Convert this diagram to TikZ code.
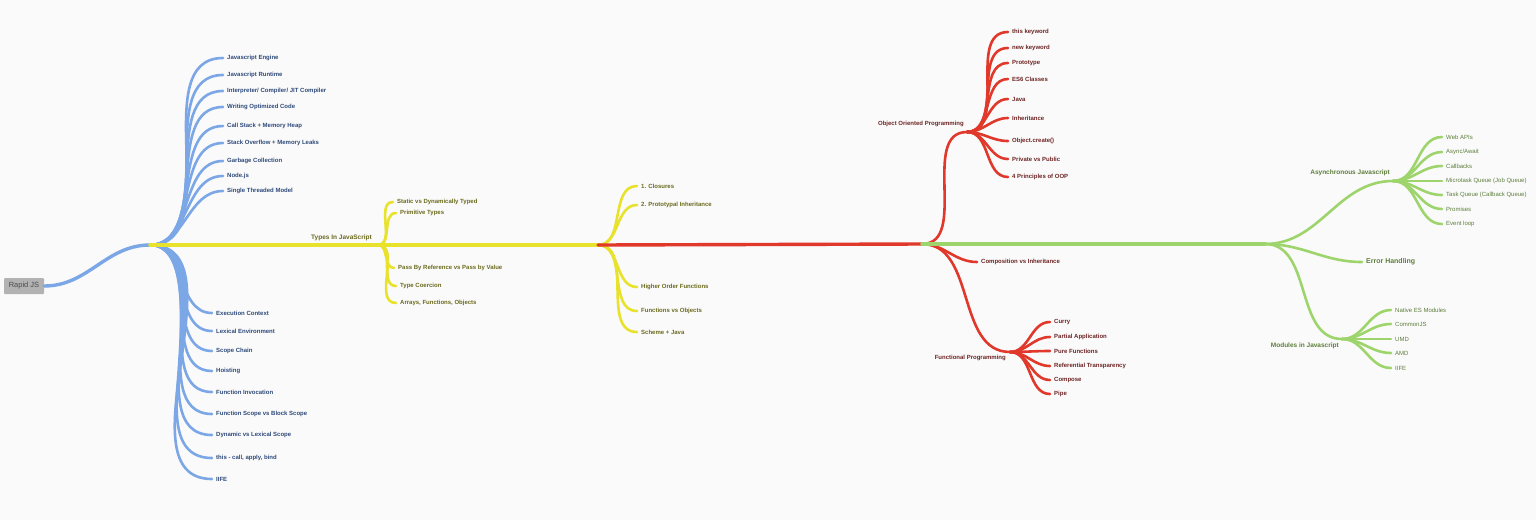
\documentclass[tikz,border=0pt]{standalone}
\usepackage{fontspec}
\setmainfont{Liberation Sans}
\definecolor{bluewire}{HTML}{7BA7E6}
\definecolor{bluetext}{HTML}{2E4A7A}
\definecolor{yelwire}{HTML}{E8E22C}
\definecolor{yeltext}{HTML}{6B6A1E}
\definecolor{redwire}{HTML}{E0382A}
\definecolor{redtext}{HTML}{6E2424}
\definecolor{grnwire}{HTML}{9DD56C}
\definecolor{grntext}{HTML}{5E7E3C}
\tikzset{
  leaf/.style={anchor=west,inner ysep=1pt,inner xsep=4pt,xshift=-3pt,font=\fontsize{6}{7}\selectfont\bfseries},
  thinleaf/.style={leaf,font=\fontsize{6}{7}\selectfont},
  hublabel/.style={inner sep=1pt,font=\fontsize{6.5}{8}\selectfont\bfseries},
  wire/.style={line width=2.6pt,line cap=round},
  trunk/.style={line width=3.4pt,line cap=round},
}
\begin{document}
\begin{tikzpicture}[x=1pt,y=-1pt]
  \useasboundingbox[fill=white!98!black] (0,0) rectangle (1536,520);
  % root
  \node[fill=black!30,text=black!70,minimum width=40pt,minimum height=16pt,inner sep=1pt,
        rounded corners=1pt,font=\fontsize{7.5}{9}\selectfont] (root) at (24,286) {Rapid JS};
  \coordinate (hubA) at (150,245);
  \coordinate (hubT) at (378,245);
  \coordinate (hubY) at (598,245);
  \coordinate (hubR) at (922,244);
  \coordinate (hubG) at (1265,244);
  \draw[trunk,bluewire] (root.east) to[out=0,in=180] (hubA);
  % blue leaves
  \foreach \t/\y [count=\i] in {Javascript Engine/58,Javascript Runtime/75,
      {Interpreter/ Compiler/ JIT Compiler}/91,Writing Optimized Code/107,
      Call Stack + Memory Heap/126,Stack Overflow + Memory Leaks/143,
      Garbage Collection/161,Node.js/176,Single Threaded Model/191}{
    \node[leaf,text=bluetext] (bt\i) at (226,\y) {\t};
    \draw[wire,bluewire] (hubA) to[out=0,in=180] (bt\i.west);
  }
  \foreach \t/\y [count=\i] in {Execution Context/313,Lexical Environment/331,
      Scope Chain/351,Hoisting/371,Function Invocation/392,
      Function Scope vs Block Scope/414,Dynamic vs Lexical Scope/435,
      {this - call, apply, bind}/458,IIFE/479}{
    \node[leaf,text=bluetext] (bb\i) at (215,\y) {\t};
    \draw[wire,bluewire] (hubA) to[out=0,in=180] (bb\i.west);
  }
  % yellow
  \draw[trunk,yelwire] (hubA) -- (hubT) -- (hubY);
  \node[hublabel,text=yeltext,anchor=south east] (types) at (373,242) {Types In JavaScript};
  \foreach \t/\y/\x [count=\i] in {Static vs Dynamically Typed/202/396,Primitive Types/213/399,
      Pass By Reference vs Pass by Value/268/397,Type Coercion/286/399,
      {Arrays, Functions, Objects}/303/399}{
    \node[leaf,text=yeltext] (yt\i) at (\x,\y) {\t};
    \draw[wire,yelwire] (hubT) to[out=0,in=180] (yt\i.west);
  }
  \foreach \t/\y [count=\i] in {1. Closures/186,2. Prototypal Inheritance/205,
      Higher Order Functions/287,Functions vs Objects/311,Scheme + Java/332}{
    \node[leaf,text=yeltext] (yc\i) at (640,\y) {\t};
    \draw[wire,yelwire] (hubY) to[out=0,in=180] (yc\i.west);
  }
  % red
  \draw[trunk,redwire] (hubY) -- (hubR);
  \coordinate (hubOOP) at (967,132);
  \coordinate (hubFP) at (1010,352);
  \draw[wire,redwire] (hubR) to[out=0,in=180] (hubOOP);
  \draw[wire,redwire] (hubR) to[out=0,in=180] (hubFP);
  \node[leaf,text=redtext] (comp) at (980,262) {Composition vs Inheritance};
  \draw[wire,redwire] (hubR) to[out=0,in=180] (comp.west);
  \node[hublabel,text=redtext,anchor=south east,font=\fontsize{6}{7}\selectfont\bfseries] (oop) at (965,128) {Object Oriented Programming};
  \node[hublabel,text=redtext,anchor=north east,font=\fontsize{6}{7}\selectfont\bfseries] (fp) at (1007,354) {Functional Programming};
  \foreach \t/\y [count=\i] in {this keyword/32,new keyword/48,Prototype/63,
      ES6 Classes/79,Java/99,Inheritance/118,Object.create()/141,
      Private vs Public/159,4 Principles of OOP/177}{
    \node[leaf,text=redtext] (ro\i) at (1011,\y) {\t};
    \draw[wire,redwire] (hubOOP) to[out=0,in=180] (ro\i.west);
  }
  \foreach \t/\y [count=\i] in {Curry/322,Partial Application/337,Pure Functions/351,
      Referential Transparency/366,Compose/380,Pipe/394}{
    \node[leaf,text=redtext] (rf\i) at (1053,\y) {\t};
    \draw[wire,redwire] (hubFP) to[out=0,in=180] (rf\i.west);
  }
  % green
  \draw[trunk,grnwire] (hubR) -- (hubG);
  \coordinate (hubAsync) at (1393,181);
  \coordinate (hubMod) at (1342,339);
  \draw[wire,grnwire] (hubG) to[out=0,in=180] (hubAsync);
  \draw[wire,grnwire] (hubG) to[out=0,in=180] (hubMod);
  \node[leaf,text=grntext,font=\fontsize{7}{8}\selectfont\bfseries] (err) at (1365,262) {Error Handling};
  \draw[wire,grnwire] (hubG) to[out=0,in=180] (err.west);
  \node[hublabel,text=grntext,anchor=south east] (async) at (1391,177) {Asynchronous Javascript};
  \node[hublabel,text=grntext,anchor=north east] (mods) at (1340,342) {Modules in Javascript};
  \foreach \t/\y [count=\i] in {Web APIs/137,{Async/Await}/152,Callbacks/166,
      Microtask Queue (Job Queue)/181,Task Queue (Callback Queue)/195,
      Promises/209,Event loop/224}{
    \node[thinleaf,text=grntext] (ga\i) at (1445,\y) {\t};
    \draw[wire,grnwire] (hubAsync) to[out=0,in=180] (ga\i.west);
  }
  \foreach \t/\y [count=\i] in {Native ES Modules/310,CommonJS/324,UMD/339,AMD/353,IIFE/368}{
    \node[thinleaf,text=grntext] (gm\i) at (1394,\y) {\t};
    \draw[wire,grnwire] (hubMod) to[out=0,in=180] (gm\i.west);
  }
\end{tikzpicture}
\end{document}
